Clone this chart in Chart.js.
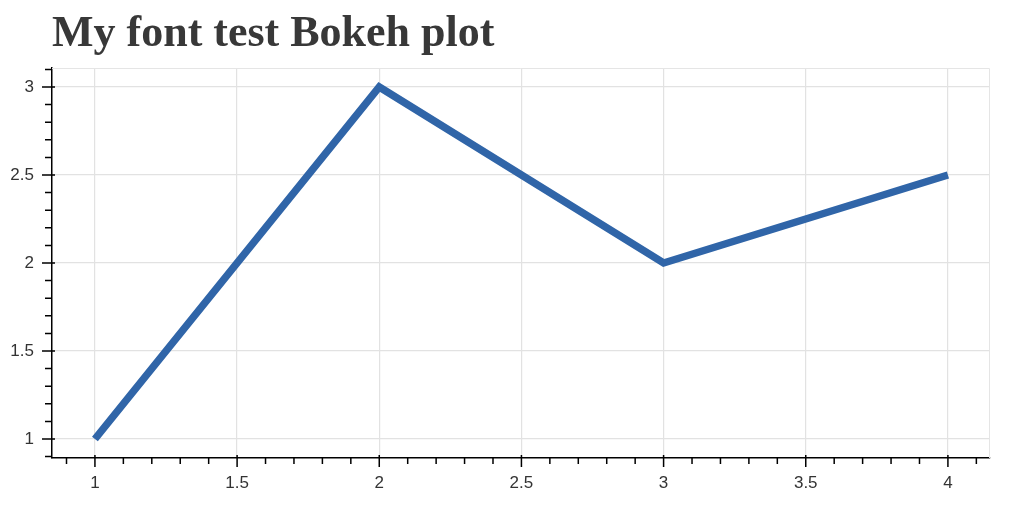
<!DOCTYPE html>
<html>
<head>
<meta charset="utf-8">
<script src="https://cdn.jsdelivr.net/npm/chart.js@4"></script>
<style>
  html, body { margin: 0; padding: 0; background: #fff; }
</style>
</head>
<body>
<canvas id="chart" width="1024" height="515"></canvas>
<script>
const plotTitle = 'My font test Bokeh plot';
const xValues = [1, 2, 3, 4];
const yValues = [1, 3, 2, 2.5];
const xRange = [0.849, 4.148];
const yRange = [0.892, 3.108];
const majorStep = 0.5;
const minorStep = 0.1;

const labelFont = { family: "'Liberation Sans', Arial, sans-serif", size: 17 };
const tickLabel = (v) => String(Math.round(v * 10) / 10);

// frame on top/right + bokeh style major/minor tick marks
const axisTicks = {
    id: 'axisTicks',
    beforeDatasetsDraw(chart) {
        const { ctx, chartArea: a } = chart;
        ctx.save();
        ctx.strokeStyle = '#e5e5e5';
        ctx.lineWidth = 1;
        ctx.beginPath();
        ctx.moveTo(a.left, a.top + 0.5);
        ctx.lineTo(a.right - 0.5, a.top + 0.5);
        ctx.lineTo(a.right - 0.5, a.bottom);
        ctx.stroke();
        ctx.restore();
    },
    afterDraw(chart) {
        const { ctx, chartArea: a } = chart;
        const marks = (scale, cb) => {
            const start = Math.ceil(scale.min / minorStep - 1e-9);
            const end = Math.floor(scale.max / minorStep + 1e-9);
            for (let i = start; i <= end; i++) {
                const v = i * minorStep;
                const major = Math.abs(v / majorStep - Math.round(v / majorStep)) < 1e-6;
                cb(scale.getPixelForValue(v), major);
            }
        };
        ctx.save();
        ctx.strokeStyle = '#000';
        ctx.lineWidth = 1.5;
        ctx.beginPath();
        marks(chart.scales.x, (px, major) => {
            ctx.moveTo(px, a.bottom - (major ? 3 : 0));
            ctx.lineTo(px, a.bottom + (major ? 9 : 6));
        });
        marks(chart.scales.y, (py, major) => {
            ctx.moveTo(a.left + (major ? 3 : 0), py);
            ctx.lineTo(a.left - (major ? 10 : 7), py);
        });
        ctx.stroke();
        ctx.restore();
    }
};

let chartCanvas = document.getElementById('chart').getContext('2d');
let chart = new Chart(chartCanvas, {
    type: 'line',
    data: {
        datasets: [{
            data: xValues.map((x, i) => ({ x: x, y: yValues[i] })),
            borderColor: '#3065a8',
            borderWidth: 7.5,
            borderJoinStyle: 'miter',
            pointRadius: 0,
            tension: 0,
            fill: false
        }]
    },
    options: {
        responsive: false,
        animation: false,
        layout: { padding: { left: 0, right: 34, top: 0, bottom: 0 } },
        plugins: {
            legend: { display: false },
            tooltip: { enabled: false },
            title: {
                display: true,
                text: plotTitle,
                align: 'start',
                fullSize: false,
                color: '#383838',
                font: { family: "'Liberation Serif', 'DejaVu Serif', serif", size: 44, weight: 'bold', lineHeight: 1.2 },
                padding: { top: 8, bottom: 7.2 }
            }
        },
        scales: {
            x: {
                type: 'linear',
                min: xRange[0],
                max: xRange[1],
                afterFit: (scale) => { scale.height = 57; },
                ticks: {
                    stepSize: majorStep,
                    includeBounds: false,
                    padding: 15,
                    color: '#333',
                    font: labelFont,
                    maxRotation: 0,
                    callback: tickLabel
                },
                grid: { color: '#e2e2e2', lineWidth: 1.2, drawTicks: false },
                border: { color: '#000', width: 1.5 }
            },
            y: {
                min: yRange[0],
                max: yRange[1],
                afterFit: (scale) => { scale.width = 52; },
                ticks: {
                    stepSize: majorStep,
                    includeBounds: false,
                    padding: 18,
                    color: '#333',
                    font: labelFont,
                    callback: tickLabel
                },
                grid: { color: '#e2e2e2', lineWidth: 1.2, drawTicks: false },
                border: { color: '#000', width: 1.5 }
            }
        }
    },
    plugins: [axisTicks]
});
</script>
</body>
</html>
